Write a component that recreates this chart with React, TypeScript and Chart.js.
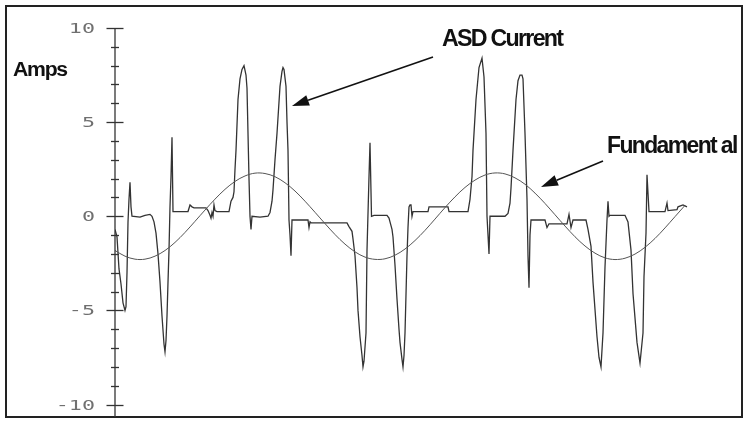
import { useEffect, useRef } from "react";
import { Chart, registerables } from "chart.js";

Chart.register(...registerables);

// ---- data (time in sample steps, current in amps) ----
const yTickValues = [10, 5, 0, -5, -10];
const yTickLabels = ["10", "5", "0", "-5", "-10"];

const asdTime = [
  0, 2, 4, 6, 8, 10, 11, 12, 13, 14, 15, 16, 17, 25, 30, 35, 37, 39, 41, 43, 45, 47, 49, 50, 51, 52, 53, 54, 55, 56, 57, 58,
  73, 75, 77, 79, 91, 93, 95, 96, 97, 98, 99, 100, 102, 114, 116, 118, 119, 120, 121, 123, 125, 127, 129, 131, 132, 133, 134, 135, 136, 137,
  145, 153, 155, 157, 158, 160, 162, 165, 167, 168, 169, 171, 172, 173, 174, 175, 176, 177,
  193, 194, 195, 196, 232, 234, 237, 238, 240, 242, 243, 245, 247, 248, 249, 251, 252, 254, 255, 256.5,
  259, 272, 274, 275, 277, 278, 280, 282, 284, 285, 287, 288, 289, 290, 292, 293, 294, 295, 296, 297, 298,
  313, 314, 333, 334, 353, 355, 357, 358, 361, 364, 367, 369, 371, 372, 373, 374, 375,
  390, 393, 395, 396, 398, 401, 403, 405, 407, 408, 410, 412, 413, 414, 415, 416,
  430, 432, 434, 452, 454, 456, 458, 471, 473, 476, 478, 482, 484, 486, 488, 490, 492, 493, 494, 495,
  510, 513, 516, 518, 522, 525, 528, 529, 531, 532, 534, 550, 552, 553, 562, 563, 568, 572,
];
const asdAmps = [
  -0.7, -1.1, -2.8, -3.6, -4.6, -5.0, -4.8, -3.0, -0.3, 0.9, 1.8, 0.5, 0.0, -0.05, 0.05, 0.1, 0.0, -0.3, -0.9, -2.0, -3.5, -5.3, -6.8, -7.2, -6.6, -5.3, -3.5, -1.8, 0.5, 2.1, 4.2, 0.25,
  0.25, 0.6, 0.5, 0.45, 0.45, 0.3, 0.05, -0.1, 0.2, 0.0, 0.6, 0.3, 0.25, 0.25, 0.8, 1.0, 1.3, 2.5, 3.5, 6.2, 7.3, 7.8, 8.0, 7.5, 6.8, 4.4, 2.0, 0.0, -0.7, 0.0,
  -0.05, 0.0, 0.2, 0.8, 1.4, 3.0, 4.4, 6.9, 7.7, 7.9, 7.8, 6.9, 5.0, 3.5, -0.2, -1.0, -2.1, -0.2,
  -0.2, -0.6, -0.3, -0.35, -0.35, -0.55, -0.8, -1.2, -2.1, -3.8, -5.0, -6.4, -7.4, -8.0, -7.7, -6.2, -1.8, 2.1, 3.9, 0.0,
  0.05, 0.05, -0.1, -0.3, -0.7, -1.1, -2.6, -4.4, -6.0, -6.7, -7.6, -8.0, -7.4, -6.2, -2.1, -0.6, 0.5, 0.6, 0.6, 0.0, 0.25,
  0.25, 0.5, 0.5, 0.25, 0.25, 0.9, 2.1, 3.5, 6.2, 7.9, 8.4, 7.4, 4.4, 0.0, -1.0, -2.0, 0.0,
  0.0, 0.15, 0.7, 1.5, 3.5, 6.2, 7.2, 7.5, 7.5, 7.3, 4.4, 0.9, -2.1, -3.8, -1.0, -0.2,
  -0.2, -0.6, -0.4, -0.4, 0.1, -0.6, -0.2, -0.2, -0.7, -1.6, -3.5, -6.4, -7.5, -8.0, -6.2, -2.7, -0.2, 0.8, 0.0, 0.05,
  0.05, -0.3, -1.8, -4.1, -6.7, -7.8, -6.2, -3.2, -0.9, 2.2, 0.25, 0.25, 0.7, 0.3, 0.35, 0.5, 0.6, 0.5,
];

const fundTime = [
  0, 10, 20, 30, 40, 50, 60, 70, 80, 90, 100, 110, 120, 130, 140, 150, 160, 170, 180, 190,
  200, 210, 220, 230, 240, 250, 260, 270, 280, 290, 300, 310, 320, 330, 340, 350, 360, 370, 380, 390,
  400, 410, 420, 430, 440, 450, 460, 470, 480, 490, 500, 510, 520, 530, 540, 550, 560, 570,
];
const fundAmps = [
  -1.82, -2.12, -2.28, -2.28, -2.12, -1.82, -1.39, -0.86, -0.27, 0.33, 0.91, 1.43, 1.85, 2.14, 2.29, 2.27, 2.10, 1.78, 1.34, 0.80,
  0.21, -0.39, -0.97, -1.48, -1.89, -2.17, -2.29, -2.26, -2.07, -1.74, -1.29, -0.75, -0.15, 0.46, 1.03, 1.53, 1.92, 2.19, 2.30, 2.25,
  2.04, 1.70, 1.23, 0.68, 0.08, -0.52, -1.09, -1.58, -1.96, -2.21, -2.30, -2.23, -2.01, -1.65, -1.18, -0.62, -0.02, 0.58,
];

const yTitle = "Amps";
const asdLabel = "ASD Current";
const fundLabel = "Fundament al";

// ---- annotation placement (data coordinates) ----
const annotations = {
  title: { x: -102, y: 7.45, width: 55, font: "bold 20px 'Liberation Sans', Arial, sans-serif", spacing: -1.2 },
  asdText: { x: 327, y: 9.06, width: 122, font: "bold 24px 'Liberation Sans', Arial, sans-serif", spacing: -1.8 },
  fundText: { x: 493, y: 3.35, width: 129, font: "bold 23px 'Liberation Sans', Arial, sans-serif", spacing: -1.6 },
  asdArrow: { x1: 318, y1: 8.46, x2: 177, y2: 5.86 },
  fundArrow: { x1: 488, y1: 2.94, x2: 426, y2: 1.56 },
};

function drawFitText(ctx: CanvasRenderingContext2D, text: string, x: number, y: number, width: number, font: string, spacing: number) {
  ctx.save();
  ctx.font = font;
  (ctx as any).letterSpacing = spacing + "px";
  ctx.fillStyle = "#111";
  ctx.textAlign = "left";
  ctx.textBaseline = "alphabetic";
  const m = ctx.measureText(text);
  const w = m.actualBoundingBoxRight + m.actualBoundingBoxLeft || m.width;
  ctx.translate(x, y);
  ctx.scale(width / w, 1);
  ctx.fillText(text, m.actualBoundingBoxLeft || 0, 0);
  ctx.restore();
}

function drawArrow(ctx: CanvasRenderingContext2D, x1: number, y1: number, x2: number, y2: number) {
  const ang = Math.atan2(y2 - y1, x2 - x1);
  const headLen = 17;
  const headW = 5.5;
  const bx = x2 - headLen * Math.cos(ang);
  const by = y2 - headLen * Math.sin(ang);
  ctx.save();
  ctx.strokeStyle = "#111";
  ctx.fillStyle = "#111";
  ctx.lineWidth = 1.6;
  ctx.beginPath();
  ctx.moveTo(x1, y1);
  ctx.lineTo(bx, by);
  ctx.stroke();
  ctx.beginPath();
  ctx.moveTo(x2, y2);
  ctx.lineTo(bx + headW * Math.sin(ang), by - headW * Math.cos(ang));
  ctx.lineTo(bx - headW * Math.sin(ang), by + headW * Math.cos(ang));
  ctx.closePath();
  ctx.fill();
  ctx.restore();
}

const decorPlugin = {
  id: "decor",
  afterDraw(chart: any) {
    const ctx: CanvasRenderingContext2D = chart.ctx;
    const xs = chart.scales.x;
    const ys = chart.scales.y;
    const area = chart.chartArea;
    const axisX = area.left;

    ctx.save();
    // outer frame
    ctx.strokeStyle = "#222";
    ctx.lineWidth = 2;
    ctx.strokeRect(6, 6, 736, 411);

    // y axis line
    ctx.strokeStyle = "#333";
    ctx.lineWidth = 1.3;
    ctx.beginPath();
    ctx.moveTo(axisX, ys.getPixelForValue(10));
    ctx.lineTo(axisX, 417);
    ctx.stroke();

    // major/minor ticks
    for (let v = -10; v <= 10; v++) {
      const p = Math.round(ys.getPixelForValue(v)) + 0.5;
      const half = v % 5 === 0 ? 8.5 : 4;
      ctx.beginPath();
      ctx.moveTo(axisX - half, p);
      ctx.lineTo(axisX + half, p);
      ctx.stroke();
    }

    // tick labels
    ctx.fillStyle = "#707070";
    ctx.font = "14px 'DejaVu Sans Mono', monospace";
    ctx.textAlign = "right";
    ctx.textBaseline = "alphabetic";
    yTickValues.forEach((v, i) => {
      const p = ys.getPixelForValue(v);
      ctx.save();
      ctx.translate(95, p + 5);
      ctx.scale(1.55, 1);
      ctx.fillText(yTickLabels[i], 0, 0);
      ctx.restore();
    });
    ctx.restore();

    // titles and arrows
    const a = annotations;
    drawFitText(ctx, yTitle, xs.getPixelForValue(a.title.x), ys.getPixelForValue(a.title.y), a.title.width, a.title.font, a.title.spacing);
    drawFitText(ctx, asdLabel, xs.getPixelForValue(a.asdText.x), ys.getPixelForValue(a.asdText.y), a.asdText.width, a.asdText.font, a.asdText.spacing);
    drawFitText(ctx, fundLabel, xs.getPixelForValue(a.fundText.x), ys.getPixelForValue(a.fundText.y), a.fundText.width, a.fundText.font, a.fundText.spacing);
    drawArrow(ctx, xs.getPixelForValue(a.asdArrow.x1), ys.getPixelForValue(a.asdArrow.y1), xs.getPixelForValue(a.asdArrow.x2), ys.getPixelForValue(a.asdArrow.y2));
    drawArrow(ctx, xs.getPixelForValue(a.fundArrow.x1), ys.getPixelForValue(a.fundArrow.y1), xs.getPixelForValue(a.fundArrow.x2), ys.getPixelForValue(a.fundArrow.y2));
  },
};

export default function App() {
  const ref = useRef<HTMLCanvasElement | null>(null);

  useEffect(() => {
    if (!ref.current) return;
    const chart = new Chart(ref.current, {
      type: "line",
      data: {
        datasets: [
          {
            label: fundLabel,
            data: fundTime.map((t, i) => ({ x: t, y: fundAmps[i] })),
            borderColor: "#555",
            borderWidth: 1,
            pointRadius: 0,
            tension: 0.35,
            fill: false,
          },
          {
            label: asdLabel,
            data: asdTime.map((t, i) => ({ x: t, y: asdAmps[i] })),
            borderColor: "#333",
            borderWidth: 1.3,
            pointRadius: 0,
            tension: 0,
            fill: false,
          },
        ],
      },
      options: {
        animation: false,
        responsive: false,
        devicePixelRatio: 1,
        layout: { padding: { left: 115, right: 8, top: 28, bottom: 22.5 } },
        plugins: { legend: { display: false }, tooltip: { enabled: false } },
        scales: {
          x: { type: "linear", display: false, min: 0, max: 627 },
          y: { type: "linear", display: false, min: -10, max: 10 },
        },
      },
      plugins: [decorPlugin],
    });
    return () => chart.destroy();
  }, []);

  return (
    <div style={{ position: "absolute", left: 0, top: 0, width: 750, height: 427, background: "#fff" }}>
      <canvas ref={ref} width={750} height={427} style={{ display: "block" }} />
    </div>
  );
}
